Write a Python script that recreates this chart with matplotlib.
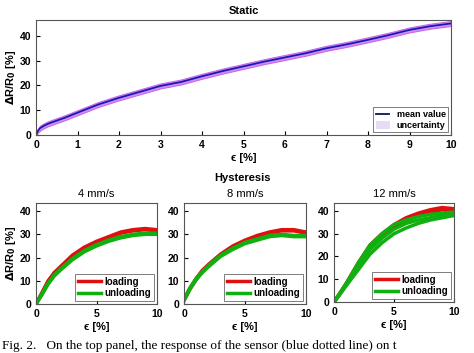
import numpy as np
import matplotlib.pyplot as plt

# static response
static_x = [0, 0.05, 0.1, 0.2, 0.3, 0.5, 0.7, 1.0, 1.5, 2.0, 2.5, 3.0, 3.5, 4.0, 4.5,
            5.0, 5.5, 6.0, 6.5, 7.0, 7.5, 8.0, 8.5, 9.0, 9.5, 10.0]
static_mean = [0, 1.8, 2.8, 3.8, 4.6, 5.8, 7.0, 9.0, 12.3, 15.0, 17.4, 19.8, 21.4, 23.7, 25.8,
               27.7, 29.6, 31.3, 33.0, 35.0, 36.6, 38.4, 40.3, 42.4, 43.9, 45.0]
static_unc = [0.3, 0.8, 1.0, 1.0, 1.0, 1.0, 1.0, 1.0, 1.0, 1.0, 1.0, 1.0, 1.0, 1.0, 1.0,
              1.0, 1.0, 1.0, 1.0, 1.0, 1.0, 1.0, 1.0, 1.0, 1.0, 1.0]

hyst_x = [0, 0.5, 1, 1.5, 2, 3, 4, 5, 6, 7, 8, 9, 10]
speeds = ["4 mm/s", "8 mm/s", "12 mm/s"]
loading = [
    [[0, 5, 10, 13.5, 16, 21, 24.5, 27, 29, 31, 32, 32.5, 32],
     [0, 4.5, 9.5, 13, 15.5, 20.5, 24, 26.5, 28.5, 30.5, 31.5, 32, 31.5]],
    [[2, 7, 11, 14.5, 17, 21.5, 25, 27.5, 29.5, 31, 32, 32, 31],
     [1.5, 6.5, 10.5, 14, 16.5, 21, 24.5, 27, 29, 30.5, 31.5, 31.5, 30.5]],
    [[0, 4, 8, 12.5, 17, 25, 30, 34, 37, 39, 40.5, 41.5, 41],
     [0, 3.5, 7.5, 12, 16, 23.5, 28.5, 32.5, 35.5, 38, 39.5, 40.5, 40]],
]
unloading = [
    [[0, 4.5, 9, 12.5, 15, 19.5, 23, 25.5, 27.5, 29, 30, 30.5, 30.5],
     [0, 4, 8.5, 12, 14.5, 19, 22.5, 25, 27, 28.5, 29.5, 30, 30]],
    [[2, 7, 11, 14, 16.5, 21, 24, 26.5, 28, 29.5, 30, 29.5, 29.5],
     [1.5, 6.5, 10.5, 13.5, 16, 20.5, 23.5, 26, 27.5, 29, 29.5, 29, 29]],
    [[0, 4, 8, 12.5, 17, 25, 30, 34, 36, 37.5, 38.5, 39, 39.5],
     [0, 3.5, 7.5, 11.5, 15.5, 23, 28, 32, 34.5, 36, 37, 38, 38.5],
     [0, 3.5, 7, 10.5, 14, 21, 26, 30, 32.5, 34.5, 36, 37, 38]],
]

plt.rcParams["font.family"] = ["Liberation Sans", "DejaVu Sans"]
plt.rcParams["font.weight"] = "bold"
plt.rcParams["axes.labelweight"] = "bold"
plt.rcParams["xtick.direction"] = "in"
plt.rcParams["ytick.direction"] = "in"
plt.rcParams["xtick.labelsize"] = 7.5
plt.rcParams["ytick.labelsize"] = 7.5
plt.rcParams["xtick.major.size"] = 3
plt.rcParams["ytick.major.size"] = 3
plt.rcParams["axes.edgecolor"] = "#555555"

W, H = 474, 353
fig = plt.figure(figsize=(W / 100, H / 100), dpi=100)


def box(l, t, r, b):
    return [l / W, 1 - b / H, (r - l) / W, (b - t) / H]


eps_label = "\u03f5 [%]"
dr_label = r"$\Delta$R/R$_0$ [%]"

# top panel
ax = fig.add_axes(box(36, 20, 451, 135))
lo = np.array(static_mean) - np.array(static_unc)
hi = np.array(static_mean) + np.array(static_unc)
band = ax.fill_between(static_x, lo, hi, facecolor="#d58ef2", edgecolor="#c56be8",
                       linewidth=0.8, label="uncertainty")
mean_line, = ax.plot(static_x, static_mean, color="#1818b8", linewidth=1.3,
                     label="mean value")
ax.set_xlim(0, 10)
ax.set_ylim(0, 46.4)
ax.set_xticks(range(0, 11))
ax.set_yticks([0, 10, 20, 30, 40])
ax.set_title("Static", fontsize=8, fontweight="bold", pad=4)
ax.set_xlabel(eps_label, fontsize=8, labelpad=2)
ax.set_ylabel(dr_label, fontsize=8, labelpad=1)
leg = ax.legend([mean_line, band], ["mean value", "uncertainty"], loc="lower right",
                fontsize=6.5, frameon=True, fancybox=False, edgecolor="#444444",
                handlelength=1.5, borderpad=0.3, labelspacing=0.2, borderaxespad=0.3)
leg.get_frame().set_linewidth(0.6)
leg.legend_handles[0].set_color("#101060")
leg.legend_handles[1].set_facecolor("#e6dcf5")
leg.legend_handles[1].set_edgecolor("#e6dcf5")

fig.text(243 / W, 1 - 178 / H, "Hysteresis", ha="center", va="center",
         fontsize=8, fontweight="bold")

boxes = [(36, 203, 157, 304), (184, 203, 306, 304), (334, 203, 454, 302)]
for i, (l_, t_, r_, b_) in enumerate(boxes):
    a = fig.add_axes(box(l_, t_, r_, b_))
    for k, ys in enumerate(loading[i]):
        a.plot(hyst_x, ys, color="#e01010", linewidth=2.5,
               label="loading" if k == 0 else None)
    for k, ys in enumerate(unloading[i]):
        a.plot(hyst_x, ys, color="#10b010", linewidth=2.5,
               label="unloading" if k == 0 else None)
    a.set_xlim(0, 10)
    a.set_ylim(0, 43.5)
    a.set_xticks([0, 5, 10])
    a.set_yticks([0, 10, 20, 30, 40])
    a.set_title(speeds[i], fontsize=8, fontweight="normal", pad=4)
    a.set_xlabel(eps_label, fontsize=8, labelpad=2)
    if i == 0:
        a.set_ylabel(dr_label, fontsize=8, labelpad=1)
    lg = a.legend(loc="lower right", fontsize=7, frameon=True, fancybox=False,
                  edgecolor="#444444", handlelength=2.3, handletextpad=0.4,
                  borderpad=0.3, labelspacing=0.15, borderaxespad=0.3)
    lg.get_frame().set_linewidth(0.6)

fig.text(2 / W, 0.5 / H,
         "Fig. 2.   On the top panel, the response of the sensor (blue dotted line) on t",
         ha="left", va="bottom", fontsize=9.5, fontweight="normal",
         family=["Liberation Serif", "DejaVu Serif"])

fig.savefig("out.png", dpi=100)
